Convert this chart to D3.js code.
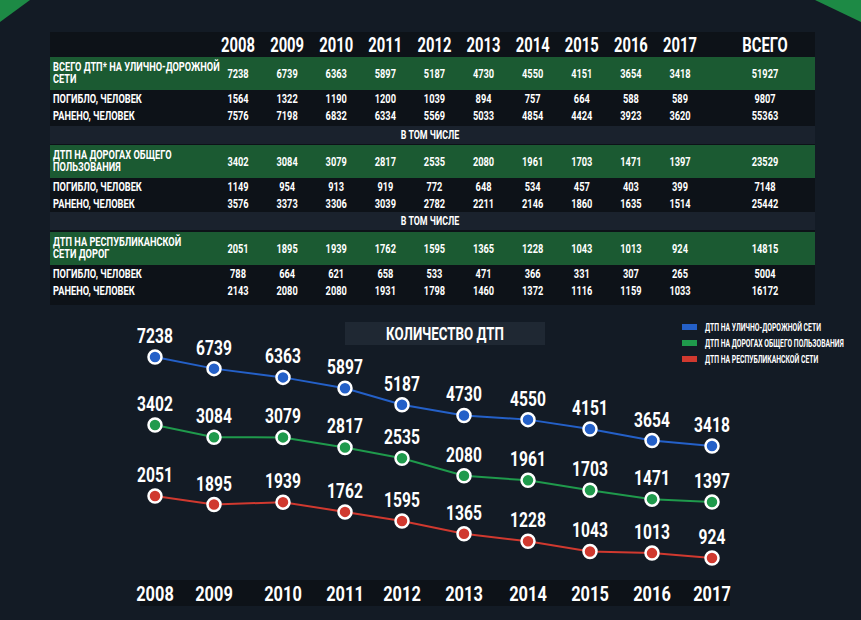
<!DOCTYPE html>
<html><head><meta charset="utf-8">
<script src="https://cdn.jsdelivr.net/npm/d3@7"></script>
<style>
body{margin:0;background:#131b25;}
text{font-family:"Roboto","Liberation Sans",sans-serif;font-weight:bold;fill:#fff;}
</style></head><body>
<svg id="c" width="861" height="620"></svg>
<script>
const years = [2008,2009,2010,2011,2012,2013,2014,2015,2016,2017]
const total = ['ВСЕГО ДТП* НА УЛИЧНО-ДОРОЖНОЙ|СЕТИ', [7238,6739,6363,5897,5187,4730,4550,4151,3654,3418], 51927]
const totalDead = [1564,1322,1190,1200,1039,894,757,664,588,589, 9807]
const totalHurt = [7576,7198,6832,6334,5569,5033,4854,4424,3923,3620, 55363]
const pub = ['ДТП НА ДОРОГАХ ОБЩЕГО|ПОЛЬЗОВАНИЯ', [3402,3084,3079,2817,2535,2080,1961,1703,1471,1397], 23529]
const pubDead = [1149,954,913,919,772,648,534,457,403,399, 7148]
const pubHurt = [3576,3373,3306,3039,2782,2211,2146,1860,1635,1514, 25442]
const rep = ['ДТП НА РЕСПУБЛИКАНСКОЙ|СЕТИ ДОРОГ', [2051,1895,1939,1762,1595,1365,1228,1043,1013,924], 14815]
const repDead = [788,664,621,658,533,471,366,331,307,265, 5004]
const repHurt = [2143,2080,2080,1931,1798,1460,1372,1116,1159,1033, 16172]
const legend = ['ДТП НА УЛИЧНО-ДОРОЖНОЙ СЕТИ','ДТП НА ДОРОГАХ ОБЩЕГО ПОЛЬЗОВАНИЯ','ДТП НА РЕСПУБЛИКАНСКОЙ СЕТИ']
const colors = ['#2460c8','#1f9a4c','#d0392f']

const svg = d3.select('#c')
// condensed text: squeeze horizontally
function txt(g, x, y, s, size, anchor = 'start', weight = 'bold', sx = 0.74) {
	return g.append('text').attr('transform', `translate(${x},${y}) scale(${sx},1)`)
		.attr('text-anchor', anchor).attr('font-size', size).attr('font-weight', weight).text(s)
}

svg.append('path').attr('d','M0,0 L30,0 L0,22Z').attr('fill','#1d8a45')
svg.append('path').attr('d','M861,0 L815,0 L861,22Z').attr('fill','#1d8a45')

// table
const tx = d3.scalePoint().domain(years).range([238,680])
const t = svg.append('g')
t.append('rect').attr('x',50).attr('y',32).attr('width',765).attr('height',273).attr('fill','#0d1218')
years.forEach(y => txt(t, tx(y), 52, y, 20, 'middle'))
txt(t, 765, 52, 'ВСЕГО', 20, 'middle')

function block(y0, head, dead, hurt) {
	t.append('rect').attr('x',50).attr('y',y0).attr('width',765).attr('height',33).attr('fill','#1b5a32')
	head[0].split('|').forEach((l,i) => txt(t, 53, y0+14+i*12, l, 12.5))
	const vals = head[1].concat([head[2]])
	vals.forEach((v,i) => txt(t, i<10?tx(years[i]):765, y0+21, v, 12.5, 'middle'))
	;[['ПОГИБЛО, ЧЕЛОВЕК',dead,y0+46],['РАНЕНО, ЧЕЛОВЕК',hurt,y0+63]].forEach(([lab,arr,yy]) => {
		txt(t, 53, yy, lab, 12.5)
		arr.forEach((v,i) => txt(t, i<10?tx(years[i]):765, yy, v, 12.5, 'middle'))
	})
}
block(57,total,totalDead,totalHurt)
block(145,pub,pubDead,pubHurt)
block(232,rep,repDead,repHurt)
;[126,212].forEach(y => {
	t.append('rect').attr('x',50).attr('y',y).attr('width',765).attr('height',18).attr('fill','#1a222d')
	txt(t, 430, y+13, 'В ТОМ ЧИСЛЕ', 12, 'middle')
})

// chart
svg.append('rect').attr('x',345).attr('y',322).attr('width',200).attr('height',23).attr('fill','#1f2833')
txt(svg, 445, 340, 'КОЛИЧЕСТВО ДТП', 18, 'middle')

legend.forEach((l,i) => {
	svg.append('rect').attr('x',682).attr('y',324+i*16).attr('width',15).attr('height',6).attr('fill',colors[i])
	txt(svg, 705, 331, l, 10, 'start', 'bold', 0.68).attr('transform', `translate(705,${331+i*16}) scale(0.68,1)`)
})

const x = d3.scaleOrdinal().domain(years).range([155,214,283,345,402,464,528,590,652,712])
const series = [
	{v: total[1], y: d3.scaleLinear().domain([3418,7238]).range([446,357])},
	{v: pub[1], y: d3.scaleLinear().domain([1397,3402]).range([502,425])},
	{v: rep[1], y: d3.scaleLinear().domain([924,2051]).range([558,496])}
]
series.forEach((s,k) => {
	const g = svg.append('g')
	g.append('path').datum(s.v).attr('fill','none').attr('stroke',colors[k]).attr('stroke-width',2)
		.attr('d', d3.line().x((d,i)=>x(years[i])).y(d=>s.y(d)))
	g.selectAll('circle').data(s.v).join('circle').attr('cx',(d,i)=>x(years[i])).attr('cy',d=>s.y(d))
		.attr('r',6.5).attr('fill',colors[k]).attr('stroke','#fff').attr('stroke-width',2.5)
	s.v.forEach((d,i) => txt(g, x(years[i]), s.y(d)-14, d, 20, 'middle', 'normal', 0.78))
})
svg.append('rect').attr('x',140).attr('y',580).attr('width',590).attr('height',26).attr('fill','#0d1218')
years.forEach(y => txt(svg, x(y), 601, y, 21, 'middle', 'bold', 0.78))
</script></body></html>
